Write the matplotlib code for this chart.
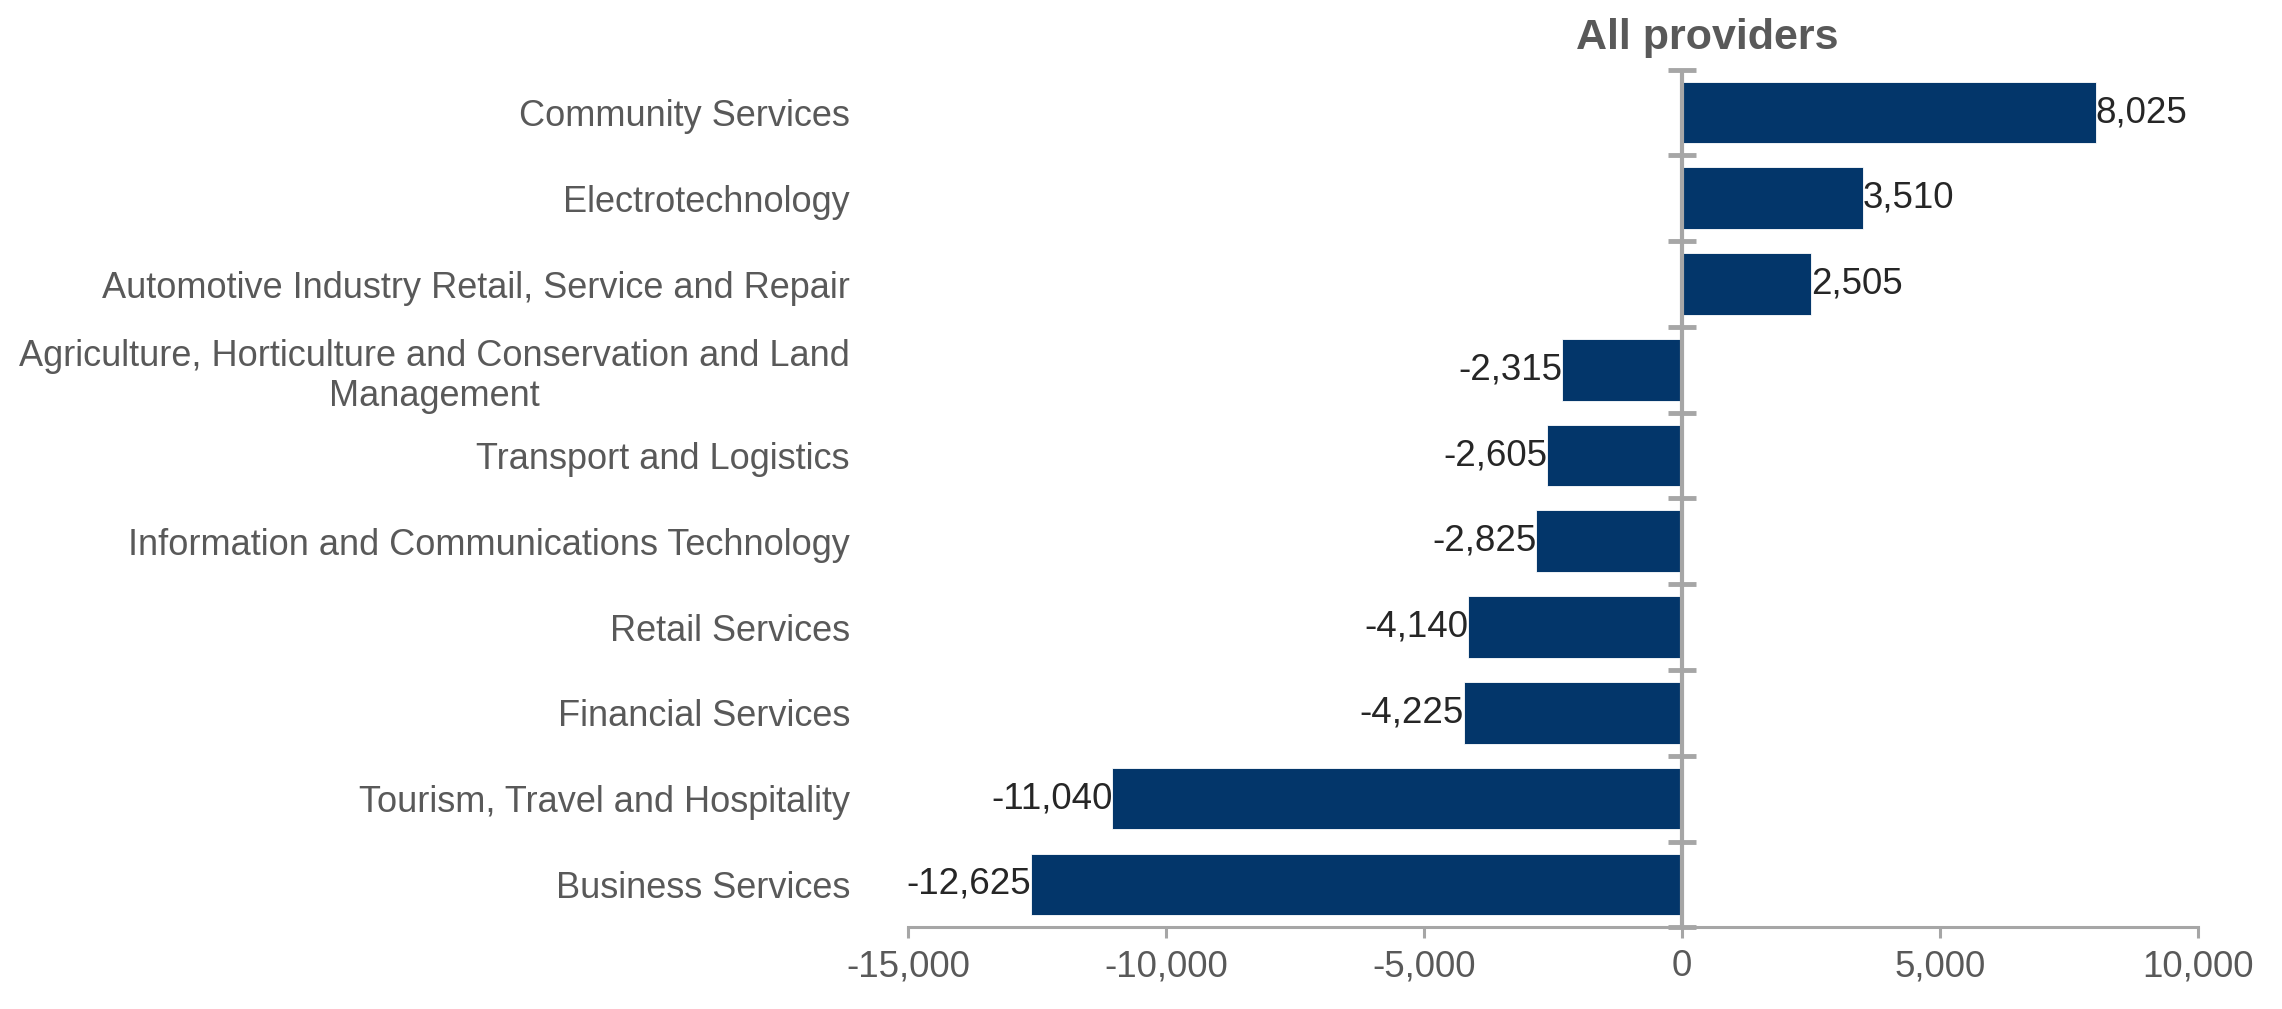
import matplotlib.pyplot as plt

plt.rcParams['font.family'] = ['Liberation Sans', 'DejaVu Sans']

# categories listed from top to bottom
industries = [
    "Community Services",
    "Electrotechnology",
    "Automotive Industry Retail, Service and Repair",
    "Agriculture, Horticulture and Conservation and Land\nManagement",
    "Transport and Logistics",
    "Information and Communications Technology",
    "Retail Services",
    "Financial Services",
    "Tourism, Travel and Hospitality",
    "Business Services",
]
change = [8025, 3510, 2505, -2315, -2605, -2825, -4140, -4225, -11040, -12625]
xticks = [-15000, -10000, -5000, 0, 5000, 10000]

bar_col = '#03366A'
grey = '#A6A6A6'
txt = '#595959'


def main():
    fig = plt.figure(figsize=(22.82, 10.09), dpi=100)
    ax = fig.add_axes([0.398, 0.081, 0.565, 0.85])

    ypos = list(range(len(industries)))[::-1]
    ax.barh(ypos, change, height=0.72, color=bar_col, edgecolor='white', linewidth=0.6)

    for y, v in zip(ypos, change):
        s = f"{v:,}"
        if v >= 0:
            ax.text(v, y, s, ha='left', va='center', fontsize=26.5, color='#262626')
        else:
            ax.text(v, y, s, ha='right', va='center', fontsize=26.5, color='#262626')

    ax.set_xlim(-15000, 10000)
    ax.set_ylim(-0.5, len(industries) - 0.5)
    ax.set_xticks(xticks)
    ax.set_xticklabels([f"{t:,}" for t in xticks], fontsize=26.5, color=txt)
    ax.set_yticks(ypos)
    ax.set_yticklabels(industries, fontsize=26, color=txt, multialignment='center')
    ax.tick_params(axis='y', length=0, pad=42)
    ax.tick_params(axis='x', direction='out', length=8, width=2.2, color=grey, pad=8)

    for side in ['top', 'right', 'left']:
        ax.spines[side].set_visible(False)
    ax.spines['bottom'].set_color(grey)
    ax.spines['bottom'].set_linewidth(2.2)

    # vertical axis line at zero with category divider ticks
    ax.axvline(0, color=grey, lw=3, zorder=3)
    zero = ax.secondary_yaxis(15000 / 25000)
    zero.set_yticks([i - 0.5 for i in range(len(industries) + 1)])
    zero.set_yticklabels([])
    zero.tick_params(direction='inout', length=20, width=3.5, color=grey)
    zero.spines['left'].set_visible(False)
    zero.spines['right'].set_visible(False)

    fig.text(0.748, 0.962, "All providers", ha='center', va='center',
             fontsize=31, fontweight='bold', color=txt)

    fig.savefig('out.png', dpi=100)


if __name__ == '__main__':
    main()
